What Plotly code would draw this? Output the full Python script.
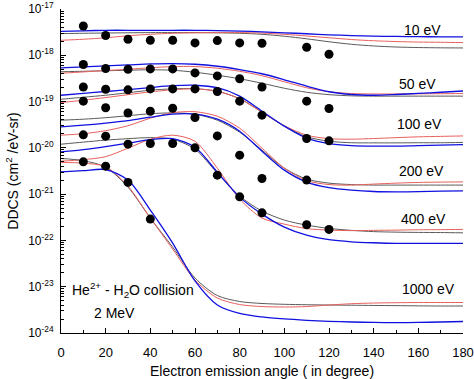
import plotly.graph_objects as go

# Electron emission angle (deg) grid of the theory curves
angles = [0, 10, 20, 30, 40, 50, 60, 70, 80, 90, 100, 110, 120, 130, 140, 150, 160, 170, 180]

# ---- theory curves (blue, gray, red) for each electron energy ----
blue_10 = [3.30e-18, 3.38e-18, 3.47e-18, 3.47e-18, 3.47e-18, 3.47e-18, 3.47e-18, 3.42e-18, 3.33e-18, 3.22e-18,
           3.06e-18, 2.92e-18, 2.77e-18, 2.67e-18, 2.60e-18, 2.55e-18, 2.52e-18, 2.51e-18, 2.50e-18]
gray_10 = [2.94e-18, 2.99e-18, 3.03e-18, 3.06e-18, 3.09e-18, 3.09e-18, 3.09e-18, 3.06e-18, 2.99e-18, 2.84e-18,
           2.58e-18, 2.27e-18, 1.96e-18, 1.73e-18, 1.59e-18, 1.51e-18, 1.47e-18, 1.45e-18, 1.44e-18]
red_10 = [2.11e-18, 2.22e-18, 2.39e-18, 2.64e-18, 2.84e-18, 2.99e-18, 3.06e-18, 3.09e-18, 3.09e-18, 3.02e-18,
          2.84e-18, 2.61e-18, 2.39e-18, 2.19e-18, 2.06e-18, 1.98e-18, 1.93e-18, 1.91e-18, 1.88e-18]

blue_50 = [5.33e-19, 5.60e-19, 5.89e-19, 6.18e-19, 6.50e-19, 6.63e-19, 6.40e-19, 5.80e-19, 4.92e-19, 3.99e-19,
           2.96e-19, 2.15e-19, 1.63e-19, 1.42e-19, 1.37e-19, 1.42e-19, 1.50e-19, 1.59e-19, 1.69e-19]
gray_50 = [4.41e-19, 4.52e-19, 4.64e-19, 4.75e-19, 4.87e-19, 4.75e-19, 4.30e-19, 3.71e-19, 3.11e-19, 2.49e-19,
           1.94e-19, 1.59e-19, 1.41e-19, 1.33e-19, 1.31e-19, 1.31e-19, 1.31e-19, 1.31e-19, 1.31e-19]
red_50 = [4.09e-19, 4.37e-19, 4.68e-19, 4.99e-19, 5.38e-19, 5.71e-19, 5.71e-19, 5.25e-19, 4.52e-19, 3.62e-19,
          2.68e-19, 1.99e-19, 1.63e-19, 1.49e-19, 1.46e-19, 1.46e-19, 1.47e-19, 1.48e-19, 1.49e-19]

blue_100 = [1.37e-19, 1.50e-19, 1.65e-19, 1.82e-19, 2.01e-19, 2.20e-19, 2.25e-19, 1.99e-19, 1.31e-19, 6.19e-20,
            2.94e-20, 1.62e-20, 1.23e-20, 1.12e-20, 1.09e-20, 1.09e-20, 1.12e-20, 1.14e-20, 1.18e-20]
gray_100 = [1.12e-19, 1.24e-19, 1.37e-19, 1.55e-19, 1.76e-19, 1.88e-19, 1.90e-19, 1.67e-19, 1.15e-19, 5.89e-20,
            2.94e-20, 1.74e-20, 1.39e-20, 1.29e-20, 1.28e-20, 1.28e-20, 1.29e-20, 1.29e-20, 1.31e-20]
red_100 = [9.54e-20, 1.07e-19, 1.22e-19, 1.41e-19, 1.62e-19, 1.80e-19, 1.88e-19, 1.67e-19, 1.15e-19, 5.89e-20,
           3.01e-20, 1.88e-20, 1.58e-20, 1.54e-20, 1.59e-20, 1.66e-20, 1.73e-20, 1.77e-20, 1.81e-20]

blue_200 = [2.84e-20, 3.09e-20, 3.41e-20, 3.86e-20, 4.60e-20, 5.34e-20, 5.34e-20, 4.16e-20, 2.29e-20, 8.48e-21,
            3.30e-21, 1.82e-21, 1.38e-21, 1.22e-21, 1.14e-21, 1.12e-21, 1.13e-21, 1.16e-21, 1.18e-21]
gray_200 = [3.96e-20, 4.16e-20, 4.48e-20, 4.95e-20, 5.47e-20, 5.69e-20, 5.34e-20, 3.96e-20, 2.18e-20, 8.92e-21,
            3.64e-21, 2.11e-21, 1.73e-21, 1.61e-21, 1.57e-21, 1.57e-21, 1.57e-21, 1.57e-21, 1.57e-21]
red_200 = [1.88e-20, 2.02e-20, 2.35e-20, 3.01e-20, 4.37e-20, 5.75e-20, 6.04e-20, 4.83e-20, 2.66e-20, 9.85e-21,
           3.64e-21, 1.96e-21, 1.61e-21, 1.57e-21, 1.65e-21, 1.73e-21, 1.79e-21, 1.82e-21, 1.84e-21]

blue_400 = [8.19e-21, 9.14e-21, 1.06e-20, 1.26e-20, 1.50e-20, 1.58e-20, 1.03e-20, 2.99e-21, 8.62e-22, 3.70e-22,
            1.94e-22, 1.30e-22, 1.04e-22, 9.35e-23, 8.90e-23, 8.64e-23, 8.64e-23, 8.64e-23, 8.64e-23]
gray_400 = [1.20e-20, 1.33e-20, 1.47e-20, 1.58e-20, 1.66e-20, 1.54e-20, 9.37e-21, 2.84e-21, 9.06e-22, 4.30e-22,
            2.75e-22, 2.14e-22, 1.82e-22, 1.65e-22, 1.55e-22, 1.51e-22, 1.49e-22, 1.48e-22, 1.46e-22]
red_400 = [5.16e-21, 5.56e-21, 6.45e-21, 9.85e-21, 1.54e-20, 1.88e-20, 1.39e-20, 3.64e-21, 7.81e-22, 3.04e-22,
           2.25e-22, 1.80e-22, 1.67e-22, 1.63e-22, 1.65e-22, 1.67e-22, 1.70e-22, 1.71e-22, 1.73e-22]

blue_1000 = [3.03e-21, 3.22e-21, 3.40e-21, 2.01e-21, 4.52e-22, 8.77e-23, 1.33e-23, 4.02e-24, 2.64e-24, 2.22e-24,
             2.01e-24, 1.88e-24, 1.79e-24, 1.73e-24, 1.69e-24, 1.67e-24, 1.69e-24, 1.73e-24, 1.77e-24]
gray_1000 = [5.90e-21, 5.29e-21, 3.83e-21, 1.42e-21, 3.04e-22, 7.18e-23, 1.54e-23, 6.45e-24, 4.79e-24, 4.34e-24,
             4.17e-24, 4.08e-24, 4.02e-24, 3.98e-24, 3.94e-24, 3.90e-24, 3.86e-24, 3.83e-24, 3.83e-24]
red_1000 = [4.84e-21, 4.67e-21, 3.93e-21, 1.49e-21, 3.04e-22, 6.51e-23, 1.39e-23, 5.70e-24, 4.12e-24, 3.73e-24,
            3.64e-24, 3.73e-24, 4.02e-24, 4.29e-24, 4.44e-24, 4.51e-24, 4.56e-24, 4.56e-24, 4.56e-24]

# ---- experimental points ----
exp_angles = [10, 20, 30, 40, 50, 60, 70, 80, 90, 110, 120]
exp_10 = [4.30e-18, 2.67e-18, 2.22e-18, 2.11e-18, 2.11e-18, 1.85e-18, 2.08e-18, 1.85e-18, 1.82e-18, 1.49e-18, 1.05e-18]
exp_50 = [6.31e-19, 5.17e-19, 4.99e-19, 5.07e-19, 5.07e-19, 4.16e-19, 3.58e-19, 3.11e-19, 2.07e-19, 1.02e-19, 7.08e-20]
exp_100 = [2.07e-19, 1.85e-19, 1.79e-19, 1.88e-19, 1.88e-19, 1.88e-19, 1.65e-19, 1.02e-19, 5.08e-20, 1.59e-20, 1.42e-20]
exp_angles_200 = [10, 20, 30, 40, 50, 60, 70, 80, 90, 110]
exp_200 = [1.02e-19, 7.37e-20, 5.66e-20, 6.19e-20, 7.19e-20, 4.53e-20, 1.81e-20, 6.95e-21, 2.18e-21, 2.01e-21]
exp_400 = [1.91e-20, 1.79e-20, 1.20e-20, 1.24e-20, 1.24e-20, 1.00e-20, 2.57e-21, 8.75e-22, 3.95e-22, 2.18e-22, 1.73e-22]
exp_angles_1000 = [10, 20, 30, 40]
exp_1000 = [4.98e-21, 4.03e-21, 1.79e-21, 2.89e-22]

energy_labels = ["10 eV", "50 eV", "100 eV", "200 eV", "400 eV", "1000 eV"]
x_ticks = [0, 20, 40, 60, 80, 100, 120, 140, 160, 180]
y_tick_exps = [-24, -23, -22, -21, -20, -19, -18, -17]

FONT = "Liberation Sans, Arial, sans-serif"
BLUE = "#1010e0"
GRAY = "#5a5a5a"
RED = "#e8605c"

fig = go.Figure()
groups = [
    (gray_10, red_10, blue_10), (gray_50, red_50, blue_50), (gray_100, red_100, blue_100),
    (gray_200, red_200, blue_200), (gray_400, red_400, blue_400), (gray_1000, red_1000, blue_1000),
]
for g, r, b in groups:
    fig.add_trace(go.Scatter(x=angles, y=g, mode="lines", line=dict(color=GRAY, width=1, shape="spline", smoothing=0.8),
                             showlegend=False, hoverinfo="skip"))
    fig.add_trace(go.Scatter(x=angles, y=r, mode="lines", line=dict(color=RED, width=1, shape="spline", smoothing=0.8),
                             showlegend=False, hoverinfo="skip"))
    fig.add_trace(go.Scatter(x=angles, y=b, mode="lines", line=dict(color=BLUE, width=1.3, shape="spline", smoothing=0.8),
                             showlegend=False, hoverinfo="skip"))

for xs, ys in [(exp_angles, exp_10), (exp_angles, exp_50), (exp_angles, exp_100),
               (exp_angles_200, exp_200), (exp_angles, exp_400), (exp_angles_1000, exp_1000)]:
    fig.add_trace(go.Scatter(x=xs, y=ys, mode="markers", marker=dict(color="black", size=9),
                             showlegend=False))

# energy labels (paper coordinates)
label_pos = [(422.5, 30), (417.5, 83.5), (419.5, 124), (421, 170.5), (423, 219), (428.5, 289)]
L, R, T, B = 61, 463, 9, 333
for txt, (px, py) in zip(energy_labels, label_pos):
    fig.add_annotation(x=(px - L) / (R - L), y=(B - py) / (B - T), xref="paper", yref="paper",
                       text=txt, showarrow=False, font=dict(family=FONT, size=14, color="black"),
                       xanchor="center", yanchor="middle")

fig.add_annotation(x=(132.5 - L) / (R - L), y=(B - 290) / (B - T), xref="paper", yref="paper",
                   text="He<sup>2+</sup> - H<sub>2</sub>O collision", showarrow=False,
                   font=dict(family=FONT, size=14, color="black"), xanchor="center", yanchor="middle")
fig.add_annotation(x=(114 - L) / (R - L), y=(B - 312.5) / (B - T), xref="paper", yref="paper",
                   text="2 MeV", showarrow=False,
                   font=dict(family=FONT, size=14, color="black"), xanchor="center", yanchor="middle")

minor_vals = [m * 10.0 ** e for e in range(-24, -17) for m in range(2, 10)]

fig.update_layout(
    width=474, height=379,
    margin=dict(l=61, r=11, t=9, b=46),
    plot_bgcolor="white", paper_bgcolor="white",
    font=dict(family=FONT, size=12, color="black"),
    xaxis=dict(
        range=[0, 180], tickmode="array", tickvals=x_ticks, ticktext=[str(v) for v in x_ticks],
        ticks="inside", ticklen=5, tickwidth=1, tickcolor="black", automargin=False,
        ticklabelstandoff=7,
        showline=True, linecolor="black", linewidth=1, mirror=False, showgrid=False, zeroline=False,
        minor=dict(tickvals=[10, 30, 50, 70, 90, 110, 130, 150, 170], ticks="inside", ticklen=3,
                   tickcolor="black", showgrid=False),
        title=dict(text="Electron emission angle ( in degree)", font=dict(size=14), standoff=12),
        tickfont=dict(size=13),
    ),
    yaxis=dict(
        type="log", range=[-24, -17], tickmode="array",
        tickvals=[10.0 ** e for e in y_tick_exps],
        ticktext=["10<sup>%d</sup>" % e for e in y_tick_exps],
        ticks="inside", ticklen=5, tickwidth=1, tickcolor="black", automargin=False,
        ticklabelstandoff=4,
        showline=True, linecolor="black", linewidth=1, mirror=False, showgrid=False, zeroline=False,
        minor=dict(tickvals=minor_vals, ticks="inside", ticklen=3, tickcolor="black", showgrid=False),
        title=dict(text="DDCS (cm<sup>2</sup> /eV-sr)", font=dict(size=14), standoff=6),
        tickfont=dict(size=12),
    ),
)

fig.write_html("out.html", config={"displayModeBar": False},
               post_script="document.body.style.margin='0';")
